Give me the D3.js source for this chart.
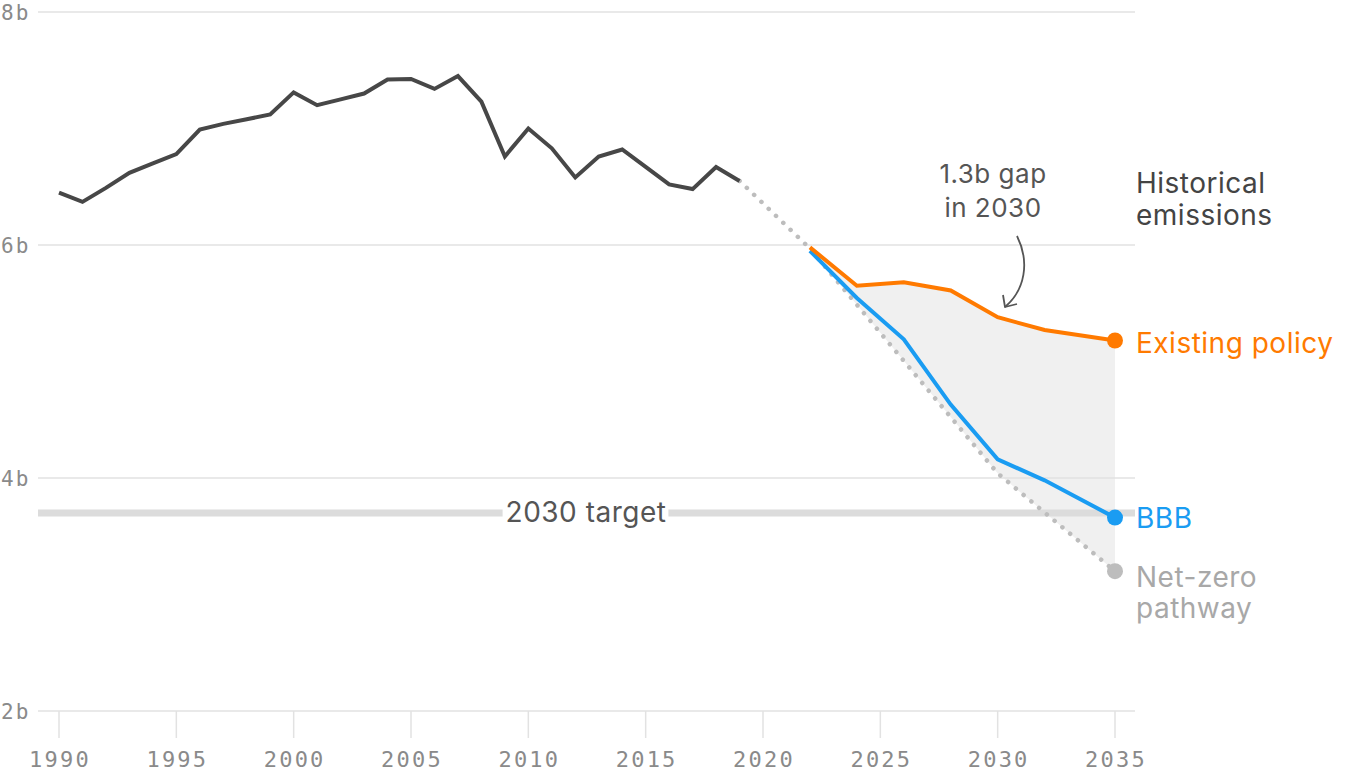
<!DOCTYPE html>
<html><head><meta charset="utf-8">
<script src="https://cdn.jsdelivr.net/npm/d3@7"></script>
<style>
html,body{margin:0;padding:0;background:#fff;}
svg{display:block;}
.lbl{font-family:Inter,"Noto Sans",sans-serif;}
.mono{font-family:"DejaVu Sans Mono",monospace;}
</style></head>
<body><svg id="c" width="1366" height="768"></svg>
<script>
// ---- data ----
const histYears = [1990,1991,1992,1993,1994,1995,1996,1997,1998,1999,2000,2001,2002,2003,2004,2005,2006,2007,2008,2009,2010,2011,2012,2013,2014,2015,2016,2017,2018,2019];
const histValues = [6.45,6.37,6.49,6.62,6.70,6.78,6.99,7.04,7.08,7.12,7.31,7.20,7.25,7.30,7.42,7.425,7.34,7.45,7.23,6.76,7.00,6.83,6.58,6.76,6.82,6.67,6.52,6.48,6.67,6.55];
const projYears = [2022,2024,2026,2028,2030,2032,2035];
const existingValues = [5.98,5.65,5.68,5.61,5.38,5.27,5.18];
const bbbValues = [5.95,5.545,5.19,4.63,4.16,3.98,3.66];
const netZeroYears = [2019,2022,2030,2035];
const netZeroValues = [6.55,5.97,4.04,3.20];
const targetValue = 3.70;
const yTicks = [2,4,6,8];
const yTickLabels = ["2b","4b","6b","8b"];
const xTicks = [1990,1995,2000,2005,2010,2015,2020,2025,2030,2035];

// ---- scales ----
const x = d3.scaleLinear().domain([1990,2035]).range([59,1115]);
const y = d3.scaleLinear().domain([2,8]).range([711,12]);
const svg = d3.select("#c");

const hist = histYears.map((d,i)=>({yr:d,v:histValues[i]}));
const exist = projYears.map((d,i)=>({yr:d,v:existingValues[i]}));
const bbb = projYears.map((d,i)=>({yr:d,v:bbbValues[i]}));
const nz = netZeroYears.map((d,i)=>({yr:d,v:netZeroValues[i]}));
const line = d3.line().x(d=>x(d.yr)).y(d=>y(d.v));

// gap fill: between existing policy (top) and net-zero (bottom) from 2022
const nzFrom2022 = nz.filter(d=>d.yr>=2022);
const poly = exist.concat(nzFrom2022.slice().reverse());
svg.append("path").attr("d", line(poly)+"Z").attr("fill","#f0f0f0");

// gridlines
svg.append("g").selectAll("line").data(yTicks).join("line")
  .attr("x1",38).attr("x2",1135).attr("y1",d=>y(d)).attr("y2",d=>y(d))
  .attr("stroke","#e2e2e2").attr("stroke-width",1.5);
svg.append("g").selectAll("text").data(yTicks).join("text")
  .attr("class","mono").attr("x",1).attr("y",d=>y(d)+8)
  .attr("fill","#8a8a8a").attr("font-size",21).attr("letter-spacing",2)
  .text((d,i)=>yTickLabels[i]);

// x ticks
svg.append("g").selectAll("line").data(xTicks).join("line")
  .attr("x1",d=>x(d)).attr("x2",d=>x(d)).attr("y1",y(2)).attr("y2",738)
  .attr("stroke","#e2e2e2").attr("stroke-width",1.5);
svg.append("g").selectAll("text").data(xTicks).join("text")
  .attr("class","mono").attr("x",d=>x(d)+1).attr("y",767)
  .attr("text-anchor","middle").attr("fill","#8a8a8a").attr("font-size",22).attr("letter-spacing",2.2)
  .text(d=>d);

// target line
svg.append("line").attr("x1",38).attr("x2",1135).attr("y1",y(targetValue)).attr("y2",y(targetValue))
  .attr("stroke","#dcdcdc").attr("stroke-width",7);
const tt = svg.append("text").attr("class","lbl").attr("x",586).attr("y",y(targetValue)+9)
  .attr("text-anchor","middle").attr("fill","#555").attr("font-size",28).attr("letter-spacing",0.5).text("2030 target");
const bb = tt.node().getBBox();
svg.insert("rect", "text.lbl").attr("x",bb.x-3).attr("y",y(targetValue)-6).attr("width",bb.width+5).attr("height",12).attr("fill","#fff");

// net-zero dotted
svg.append("path").attr("d",line(nz)).attr("fill","none").attr("stroke","#bdbdbd")
  .attr("stroke-width",4.5).attr("stroke-linecap","round").attr("stroke-dasharray","0.1 10");

// historical
svg.append("path").attr("d",line(hist)).attr("fill","none").attr("stroke","#474747")
  .attr("stroke-width",4).attr("stroke-linejoin","miter");

// bbb and existing
svg.append("path").attr("d",line(bbb)).attr("fill","none").attr("stroke","#1a9cf2").attr("stroke-width",4);
svg.append("path").attr("d",line(exist)).attr("fill","none").attr("stroke","#ff7a00").attr("stroke-width",4);

// end dots
svg.append("circle").attr("cx",x(2035)).attr("cy",y(netZeroValues[netZeroValues.length-1])).attr("r",8).attr("fill","#bdbdbd");
svg.append("circle").attr("cx",x(2035)).attr("cy",y(bbbValues[bbbValues.length-1])).attr("r",8).attr("fill","#1a9cf2");
svg.append("circle").attr("cx",x(2035)).attr("cy",y(existingValues[existingValues.length-1])).attr("r",8).attr("fill","#ff7a00");

// labels
function multi(lines, xx, y0, lh, color, fs, ls){
  const t = svg.append("text").attr("class","lbl").attr("x",xx).attr("y",y0).attr("fill",color)
    .attr("font-size",fs).attr("letter-spacing",ls);
  lines.forEach((s,i)=>t.append("tspan").attr("x",xx).attr("dy",i?lh:0).text(s));
  return t;
}
multi(["Historical","emissions"],1136,193,32,"#444",28,0.5);
multi(["Existing policy"],1136,353,32,"#ff7a00",28,0.5);
multi(["BBB"],1136,528,32,"#1a9cf2",28,0.5);
multi(["Net-zero","pathway"],1136,587,31,"#a8a8a8",28,0.5);
multi(["1.3b gap","in 2030"],993,183,34,"#555",26,0.5).attr("text-anchor","middle");

// arrow
svg.append("path").attr("d","M1017,236 C1030,262 1025,290 1005,307").attr("fill","none").attr("stroke","#555").attr("stroke-width",1.8);
svg.append("path").attr("d","M1003,295 L1005,307 L1017,304").attr("fill","none").attr("stroke","#555").attr("stroke-width",1.8).attr("stroke-linejoin","round");
</script></body></html>
